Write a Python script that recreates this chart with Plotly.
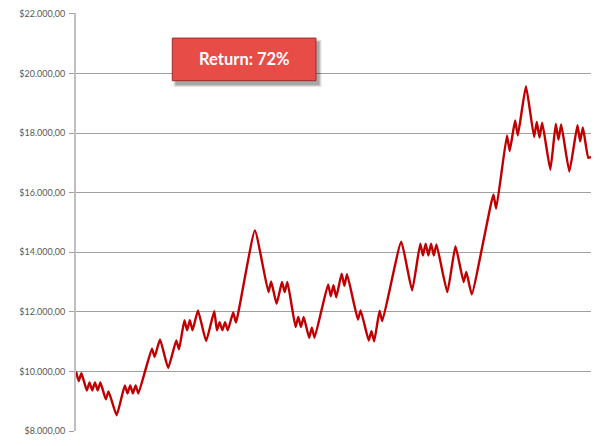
import plotly.graph_objects as go

# turning points of the portfolio balance (period index, balance in $)
periods = [0, 1, 2, 4, 5, 6, 7, 8, 9, 11, 12, 15, 18, 19, 20, 21, 22, 23, 28, 29,
           31, 34, 37, 38, 40, 41, 42, 43, 45, 48, 51, 52, 53, 54, 55, 56, 58, 59, 66, 71,
           72, 74, 76, 77, 78, 81, 82, 83, 84, 86, 87, 88, 93, 94, 95, 96, 98, 99, 100, 104,
           105, 108, 109, 110, 112, 113, 120, 124, 127, 128, 129, 130, 131, 132, 133, 137, 140, 143, 144, 146,
           154, 155, 159, 160, 162, 163, 166, 169, 170, 171, 172, 175, 177, 178, 179, 182, 185, 186, 187, 189, 190]
balance = [10000, 9680, 9940, 9360, 9630, 9360, 9630, 9360, 9630, 9060, 9330, 8530, 9530, 9260, 9530, 9260, 9530, 9260, 10760, 10490,
           11070, 10120, 11040, 10740, 11720, 11380, 11720, 11380, 12050, 11020, 12020, 11380, 11650, 11380, 11650, 11380, 11980, 11640, 14730, 12660,
           13020, 12270, 13000, 12660, 13000, 11490, 11830, 11490, 11830, 11130, 11470, 11130, 12920, 12520, 12890, 12490, 13280, 12870, 13260, 11740,
           12050, 11040, 11350, 11010, 12030, 11690, 14350, 12720, 14290, 13890, 14290, 13890, 14290, 13890, 14260, 12660, 14200, 13000, 13340, 12590,
           15940, 15460, 17920, 17400, 18420, 17920, 19570, 17870, 18370, 17850, 18350, 16770, 18310, 17780, 18290, 16710, 18260, 17720, 18190, 17170, 17200]

y_ticks = [8000, 10000, 12000, 14000, 16000, 18000, 20000, 22000]
return_text = "Return: 72%"

fig = go.Figure(go.Scatter(
    x=periods, y=balance, mode="lines",
    line=dict(color="#C00000", width=2.4, shape="spline", smoothing=0.4),
    hoverinfo="skip"
))

# box with a soft drop shadow (paper coords)
bx0, bx1, by0, by1 = 0.187, 0.466, 0.838, 0.940
for i, op in enumerate([0.08, 0.12, 0.18]):
    d = 0.002 * (2 - i)
    fig.add_shape(type="rect", xref="paper", yref="paper",
                  x0=bx0 + 0.006 - d, x1=bx1 + 0.007 + d, y0=by0 - 0.011 - d, y1=by1 - 0.008 + d,
                  fillcolor="rgba(0,0,0,%s)" % op, line_width=0)
fig.add_shape(type="rect", xref="paper", yref="paper", x0=bx0, x1=bx1, y0=by0, y1=by1,
              fillcolor="#E84C47", line=dict(color="#9E2A27", width=1))
fig.add_annotation(x=(bx0 + bx1) / 2, y=(by0 + by1) / 2, xref="paper", yref="paper",
                   xanchor="center", yanchor="middle",
                   text="<b>%s</b>" % return_text, showarrow=False,
                   font=dict(family="Lato", size=16.5, color="white"))

# the page body has an 8px margin, so the figure is a bit smaller than the window
fig.update_layout(
    width=594, height=438,
    margin=dict(l=68, r=11, t=5, b=15),
    plot_bgcolor="white", paper_bgcolor="white",
    showlegend=False,
    separators=",.",
    font=dict(family="Lato", size=9, color="#595959"),
)
fig.update_xaxes(range=[0, 190], showticklabels=False, showgrid=False, zeroline=False,
                 showline=False, ticks="", automargin=False)
fig.update_yaxes(range=[8000, 22030], tickvals=y_ticks, tickformat="$,.2f",
                 showgrid=True, gridcolor="#A0A0A0", gridwidth=1, zeroline=False,
                 showline=True, linecolor="#BFBFBF", linewidth=2,
                 ticks="outside", ticklen=5, tickcolor="#A0A0A0", ticklabelstandoff=2,
                 ticklabeloverflow="allow", automargin=False)

fig.write_html("out.html")
